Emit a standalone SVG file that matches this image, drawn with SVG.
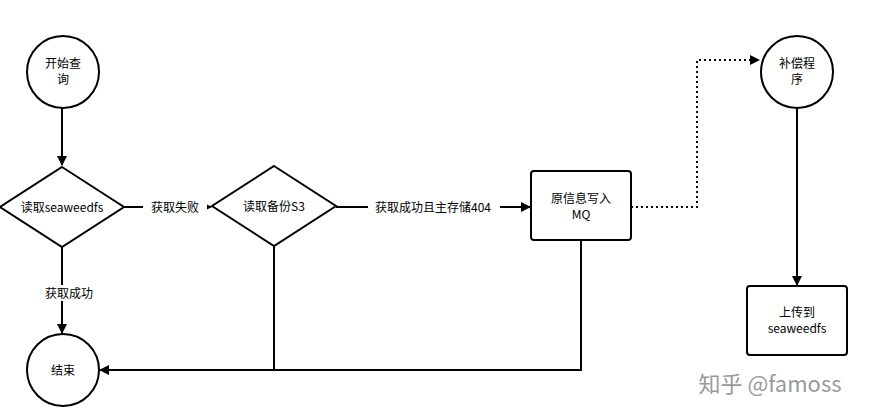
<svg xmlns="http://www.w3.org/2000/svg" width="884" height="419" viewBox="0 0 884 419">
<style>
.n{fill:#fff;stroke:#000;stroke-width:2}
.t{font-family:"Noto Sans CJK SC","Liberation Sans",sans-serif;font-size:12px;fill:#000;text-anchor:middle}
.c{fill:none;stroke:#000;stroke-width:2}
.lb{fill:#fff}
</style>
<defs><marker id="a" markerWidth="10" markerHeight="10" refX="9" refY="5" orient="auto" markerUnits="userSpaceOnUse"><path d="M0,0 L10,5 L0,10 Z" fill="#000"/></marker></defs>
<rect width="884" height="419" fill="#fff"/>
<g id="connectors">
<path class="c" d="M62,108 V165" marker-end="url(#a)"/>
<path class="c" d="M124,207 H211" marker-end="url(#a)"/>
<path class="c" d="M336,207 H530" marker-end="url(#a)"/>
<path class="c" d="M62,247 V333" marker-end="url(#a)"/>
<path class="c" d="M274,246 V370 H100" marker-end="url(#a)"/>
<path class="c" d="M581,240 V370 H274"/>
<path class="c" d="M631,207 H697 V60 H759" stroke-dasharray="2,3" marker-end="url(#a)"/>
<path class="c" d="M797,108 V285" marker-end="url(#a)"/>
<rect class="lb" x="143" y="199" width="64" height="16"/><text class="t" x="175" y="212">获取失败</text>
<rect class="lb" x="368" y="199" width="132" height="16"/><text class="t" x="433" y="212">获取成功且主存储404</text>
<rect class="lb" x="36" y="285" width="64" height="16"/><text class="t" x="69" y="298">获取成功</text>
</g>
<g id="start"><circle class="n" cx="63" cy="72" r="36"/><text class="t" x="63" y="68">开始查</text><text class="t" x="63" y="84">询</text></g>
<g id="read1"><path class="n" d="M62,167 L124,207 L62,247 L0,207 Z"/><text class="t" x="62" y="212">读取seaweedfs</text></g>
<g id="read2"><path class="n" d="M274,166 L336,206 L274,246 L212,206 Z"/><text class="t" x="274" y="211">读取备份S3</text></g>
<g id="mq"><rect class="n" x="531" y="171" width="100" height="69" rx="3"/><text class="t" x="581" y="203">原信息写入</text><text class="t" x="581" y="219">MQ</text></g>
<g id="comp"><circle class="n" cx="797" cy="72" r="36"/><text class="t" x="797" y="68">补偿程</text><text class="t" x="797" y="84">序</text></g>
<g id="upload"><rect class="n" x="747" y="286" width="100" height="69" rx="3"/><text class="t" x="797" y="317">上传到</text><text class="t" x="797" y="333">seaweedfs</text></g>
<g id="end"><circle class="n" cx="63" cy="370" r="36"/><text class="t" x="63" y="375">结束</text></g>
<text x="770" y="392" font-family="Noto Sans CJK SC,Liberation Sans,sans-serif" font-size="22" fill="#999" text-anchor="middle">知乎 @famoss</text>
</svg>
